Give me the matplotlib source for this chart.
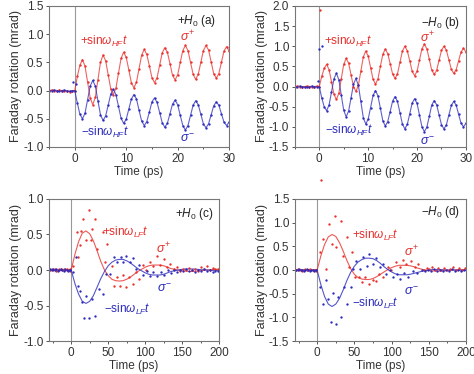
import numpy as np
import matplotlib
matplotlib.use("Agg")
import matplotlib.pyplot as plt
from matplotlib.ticker import MultipleLocator

plt.rcParams['font.family'] = ['Liberation Sans', 'DejaVu Sans']
plt.rcParams['mathtext.fontset'] = 'custom'
plt.rcParams['mathtext.rm'] = 'Liberation Sans'
plt.rcParams['mathtext.it'] = 'Liberation Sans:italic'
plt.rcParams['axes.unicode_minus'] = False

RED = '#e8302c'
BLUE = '#2b2bbd'

# ---- panels (a), (b): high-frequency precession, time in ps ----
t_hf = np.arange(-5, 30.01, 0.5)

red_a = [0.0, 0.01, 0.0, -0.01, 0.01, 0.0, -0.01, 0.0, -0.02, -0.01,
         0.0, 0.25, 0.45, 0.55, 0.43, 0.15, -0.13, -0.25, -0.12, 0.19,
         0.50, 0.63, 0.53, 0.28, 0.03, -0.07, 0.04, 0.31, 0.57, 0.68,
         0.59, 0.37, 0.14, 0.05, 0.15, 0.39, 0.63, 0.73, 0.64, 0.44,
         0.23, 0.14, 0.23, 0.45, 0.67, 0.76, 0.68, 0.48, 0.27, 0.19,
         0.28, 0.50, 0.71, 0.80, 0.71, 0.50, 0.29, 0.20, 0.29, 0.50,
         0.71, 0.80, 0.72, 0.51, 0.30, 0.22, 0.30, 0.50, 0.70, 0.78,
         0.70]
blue_a = [0.0, 0.0, 0.01, 0.0, -0.01, 0.0, 0.01, -0.01, -0.01, 0.0,
          0.0, -0.22, -0.42, -0.50, -0.40, -0.16, 0.08, 0.18, 0.08, -0.18,
          -0.43, -0.53, -0.45, -0.26, -0.06, 0.02, -0.07, -0.28, -0.49, -0.58,
          -0.51, -0.33, -0.15, -0.07, -0.15, -0.35, -0.54, -0.62, -0.55, -0.38,
          -0.20, -0.13, -0.21, -0.39, -0.57, -0.65, -0.58, -0.41, -0.24, -0.17,
          -0.25, -0.44, -0.62, -0.70, -0.62, -0.44, -0.26, -0.18, -0.25, -0.42,
          -0.59, -0.66, -0.59, -0.43, -0.27, -0.20, -0.26, -0.41, -0.56, -0.62,
          -0.56]
red_b = [0.0, 0.01, 0.0, -0.01, 0.0, 0.01, 0.0, -0.01, 0.0, 0.01,
         0.0, 0.25, 0.45, 0.55, 0.42, 0.12, -0.19, -0.32, -0.17, 0.19,
         0.55, 0.70, 0.58, 0.29, 0.0, -0.12, 0.03, 0.38, 0.73, 0.88,
         0.76, 0.47, 0.18, 0.06, 0.19, 0.50, 0.80, 0.93, 0.82, 0.57,
         0.31, 0.20, 0.32, 0.60, 0.88, 1.0, 0.89, 0.64, 0.38, 0.27,
         0.38, 0.66, 0.94, 1.05, 0.94, 0.68, 0.41, 0.30, 0.40, 0.65,
         0.90, 1.0, 0.90, 0.67, 0.43, 0.33, 0.42, 0.64, 0.86, 0.95,
         0.86]
blue_b = [0.0, 0.0, 0.01, 0.0, -0.01, 0.0, 0.0, 0.01, 0.0, 0.0,
          0.0, -0.28, -0.50, -0.60, -0.46, -0.14, 0.19, 0.33, 0.17, -0.21,
          -0.59, -0.75, -0.61, -0.28, 0.06, 0.20, 0.03, -0.37, -0.77, -0.93,
          -0.81, -0.52, -0.22, -0.10, -0.23, -0.54, -0.85, -0.98, -0.87, -0.62,
          -0.36, -0.25, -0.37, -0.65, -0.93, -1.05, -0.94, -0.68, -0.41, -0.30,
          -0.42, -0.71, -1.0, -1.12, -1.01, -0.74, -0.46, -0.35, -0.45, -0.70,
          -0.95, -1.05, -0.95, -0.71, -0.47, -0.37, -0.46, -0.69, -0.91, -1.0,
          -0.91]
# stray points right at zero delay
spike_a_t, spike_a_blue = [-0.3, 0.2], [0.15, 0.12]
spike_b_t_red, spike_b_red = [0.1, 0.3], [1.9, -2.33]
spike_b_t_blue, spike_b_blue = [0.0, 0.5, -0.2], [0.93, 1.0, 0.15]

# ---- panels (c), (d): low-frequency precession ----
t_fit = np.arange(-30, 200.1, 5)
fit_red_c = [0, 0, 0, 0, 0, 0,
             0.0, 0.22, 0.40, 0.52, 0.55, 0.51, 0.41, 0.27, 0.12, 0.0,
             -0.08, -0.13, -0.15, -0.155, -0.15, -0.13, -0.10, -0.06, -0.02, 0.01,
             0.04, 0.06, 0.07, 0.07, 0.07, 0.06, 0.04, 0.02, 0.01, 0.0,
             -0.01, -0.015, -0.02, -0.02, -0.015, -0.01, 0.0, 0.0, 0.005, 0.01,
             0.01]
fit_blue_c = [0, 0, 0, 0, 0, 0,
              0.0, -0.19, -0.34, -0.44, -0.47, -0.44, -0.36, -0.24, -0.12, -0.02,
              0.06, 0.11, 0.14, 0.15, 0.15, 0.13, 0.10, 0.06, 0.02, -0.01,
              -0.04, -0.06, -0.07, -0.07, -0.07, -0.06, -0.04, -0.02, -0.01, 0.0,
              0.01, 0.015, 0.015, 0.015, 0.01, 0.005, 0.0, 0.0, -0.005, -0.005,
              -0.01]
fit_red_d = [0, 0, 0, 0, 0, 0,
             0.0, 0.30, 0.54, 0.70, 0.75, 0.71, 0.58, 0.40, 0.20, 0.03,
             -0.09, -0.16, -0.19, -0.20, -0.20, -0.18, -0.14, -0.09, -0.04, 0.01,
             0.05, 0.08, 0.10, 0.10, 0.10, 0.09, 0.07, 0.04, 0.02, 0.0,
             -0.01, -0.02, -0.02, -0.02, -0.015, -0.01, 0.0, 0.0, 0.005, 0.01,
             0.01]
fit_blue_d = [0, 0, 0, 0, 0, 0,
              0.0, -0.31, -0.56, -0.72, -0.77, -0.72, -0.60, -0.42, -0.22, -0.05,
              0.08, 0.17, 0.22, 0.25, 0.25, 0.24, 0.20, 0.14, 0.07, 0.01,
              -0.04, -0.08, -0.10, -0.10, -0.10, -0.09, -0.07, -0.05, -0.03, -0.01,
              0.0, 0.01, 0.01, 0.01, 0.005, 0.0, 0.0, 0.0, -0.005, -0.005,
              -0.01]

t_pre = [-30, -28, -26, -24, -22, -20, -18, -16, -14, -12, -10, -8, -6, -4, -2, -1]
pre_red = [0.01, 0.0, 0.02, 0.0, 0.01, -0.01, 0.0, 0.02, 0.01, 0.0, 0.02, 0.0, 0.01, 0.0, -0.01, 0.01]
pre_blue = [0.0, 0.01, 0.0, 0.02, 0.0, 0.01, -0.01, 0.0, 0.02, 0.0, -0.01, 0.01, 0.0, -0.01, 0.0, 0.0]

dot_t_red_c = [2, 7.7, 8.7, 12, 13.6, 16, 20, 24.6, 26.4, 27.8, 32.8, 35.5, 42.8, 45.6, 48.7,
               54.7, 57.9, 62.4, 65.6, 70, 73.8, 78.4, 83, 87.5, 92, 96.6, 101, 106.6, 111,
               115.7, 120, 124.8, 129.4, 134, 138.5, 143, 147, 151, 155, 159, 163, 167, 171,
               175, 179, 183, 187, 191, 195, 199]
dot_red_c = [0.05, 0.54, 0.18, 0.35, 0.55, 0.72, 0.42, 0.84, 0.42, 0.58, 0.72, 0.30, 0.53, 0.12, 0.37,
             0.05, -0.23, -0.10, -0.23, -0.07, -0.24, -0.10, -0.20, -0.03, -0.13, 0.07, 0.0, 0.12, 0.06,
             0.20, 0.07, 0.15, 0.04, 0.09, 0.01, 0.04, -0.01, 0.02, 0.0, 0.03, 0.0, 0.02, -0.01,
             0.04, 0.01, 0.05, 0.0, 0.03, 0.01, 0.02]
dot_t_blue_c = [2, 6.4, 9.1, 12, 14.6, 17, 20, 24.6, 28, 32.8, 37.4, 42.8, 47.4, 53, 58, 62, 67,
                70, 74.7, 79, 83, 87.5, 92, 96.6, 102, 106.6, 111, 115.7, 121.6, 126, 130.7,
                135, 139, 143, 147, 151, 155, 159, 163, 167, 171, 175, 179, 183, 187, 191, 195, 199]
dot_blue_c = [-0.03, 0.19, -0.23, -0.30, -0.45, -0.67, -0.36, -0.67, -0.41, -0.64, -0.27, -0.34, -0.06,
              -0.06, 0.18, 0.11, 0.19, 0.11, 0.20, 0.12, 0.17, 0.01, 0.07, -0.07, -0.01, -0.09, -0.03,
              -0.09, -0.03, -0.07, 0.0, -0.04, 0.0, -0.03, 0.0, -0.02, 0.01, -0.02, 0.0, -0.03, 0.0,
              -0.02, 0.01, -0.02, 0.0, -0.03, -0.01, -0.02]

dot_t_red_d = [4.5, 7.7, 11.3, 15.9, 19.5, 24, 25, 31.7, 35, 39.5, 43, 46.7, 51, 55.8, 60.3, 64.9,
               69.4, 74.8, 78.5, 83, 88.4, 95, 99.8, 105.7, 111, 115.6, 120, 125.6, 131.5, 136,
               143, 147, 151, 155, 159, 163, 167, 171, 175, 179, 183, 187, 191, 195, 199]
dot_red_d = [0.38, 0.66, 0.02, 0.97, 0.54, 1.13, 0.48, 1.03, 0.30, 0.69, 0.06, 0.38, -0.14, -0.15,
             -0.26, -0.14, -0.29, -0.22, -0.24, -0.08, -0.14, 0.07, 0.0, 0.17, 0.06, 0.22, 0.12, 0.20,
             0.07, 0.13, 0.0, 0.05, 0.02, 0.06, 0.0, 0.04, 0.01, 0.05, 0.0, 0.03, 0.06, 0.01, 0.04,
             0.0, 0.05]
dot_t_blue_d = [4.5, 7.7, 11.3, 15, 18, 21, 25, 28.6, 31.7, 36, 39.5, 45, 48.5, 52, 57.6, 61.2, 66.7,
                70.3, 74.8, 79.4, 84, 88.4, 93, 97.5, 102, 107.5, 112, 116.6, 122.4, 128.3, 133.8,
                140.6, 145, 149, 153, 157, 161, 165, 169, 173, 177, 181, 185, 189, 193, 197]
dot_blue_d = [-0.36, -0.71, -0.22, -0.61, -1.10, -0.49, -1.13, -0.57, -1.0, -0.36, -0.71, -0.35, 0.02,
              0.20, 0.02, 0.27, 0.09, 0.34, 0.13, 0.26, 0.07, 0.13, -0.09, 0.0, -0.15, -0.08, -0.19,
              -0.07, -0.14, -0.01, -0.07, 0.0, -0.03, 0.01, -0.02, 0.02, -0.01, 0.01, -0.02, 0.0,
              -0.01, 0.02, -0.02, 0.0, -0.01, 0.01]

fig = plt.figure(figsize=(4.74, 3.74), dpi=100)
ax_a = fig.add_axes([0.1034, 0.607, 0.380, 0.377])
ax_b = fig.add_axes([0.622, 0.607, 0.361, 0.377])
ax_c = fig.add_axes([0.1034, 0.088, 0.359, 0.380])
ax_d = fig.add_axes([0.622, 0.088, 0.361, 0.380])

ms = 1.7
LBL = 8.5


def style(ax, xlim, ylim, xmaj, xmin_, ystep):
    ax.set_xlim(*xlim)
    ax.set_ylim(*ylim)
    ax.xaxis.set_major_locator(MultipleLocator(xmaj))
    ax.xaxis.set_minor_locator(MultipleLocator(xmin_))
    ax.yaxis.set_major_locator(MultipleLocator(ystep))
    ax.yaxis.set_major_formatter(plt.FormatStrFormatter('%.1f'))
    ax.tick_params(which='both', direction='out', labelsize=8.5, colors='#555555',
                   labelcolor='#333333', width=0.7, top=False, right=False, pad=1.5)
    ax.tick_params(which='major', length=2.5)
    ax.tick_params(which='minor', length=1.5)
    for s in ax.spines.values():
        s.set_color('#777777')
        s.set_linewidth(0.8)
    ax.axvline(0, color='#999999', lw=0.8, zorder=0)
    ax.set_xlabel('Time (ps)', fontsize=8.5, color='#333333', labelpad=1)
    ax.set_ylabel('Faraday rotation (mrad)', fontsize=9, color='#333333', labelpad=1)


# (a)
ax_a.plot(t_hf, red_a, color=RED, lw=0.8, alpha=0.75)
ax_a.plot(t_hf, blue_a, color=BLUE, lw=0.8, alpha=0.75)
ax_a.plot(t_hf, red_a, 'o', color=RED, ms=ms, mew=0)
ax_a.plot(t_hf, blue_a, 'o', color=BLUE, ms=ms, mew=0)
ax_a.plot(spike_a_t, spike_a_blue, 'o', color=BLUE, ms=ms, mew=0)
style(ax_a, (-5, 30), (-1.0, 1.5), 10, 5, 0.5)
ax_a.text(1.0, 0.87, r'+sin$\omega_{HF}t$', color=RED, fontsize=LBL, va='center')
ax_a.text(1.2, -0.75, r'−sin$\omega_{HF}t$', color=BLUE, fontsize=LBL, va='center')
ax_a.text(20.5, 0.96, r'$\sigma^{+}$', color=RED, fontsize=9, va='center')
ax_a.text(20.5, -0.86, r'$\sigma^{-}$', color=BLUE, fontsize=9, va='center')
ax_a.text(19.8, 1.23, r'+$H_0$ (a)', color='#222222', fontsize=LBL, va='center')

# (b)
ax_b.plot(t_hf, red_b, color=RED, lw=0.8, alpha=0.75)
ax_b.plot(t_hf, blue_b, color=BLUE, lw=0.8, alpha=0.75)
ax_b.plot(t_hf, red_b, 'o', color=RED, ms=ms, mew=0)
ax_b.plot(t_hf, blue_b, 'o', color=BLUE, ms=ms, mew=0)
ax_b.plot(spike_b_t_red, spike_b_red, 'o', color=RED, ms=ms, mew=0, clip_on=False)
ax_b.plot(spike_b_t_blue, spike_b_blue, 'o', color=BLUE, ms=ms, mew=0)
style(ax_b, (-5, 30), (-1.5, 2.0), 10, 5, 0.5)
ax_b.text(0.9, 1.11, r'+sin$\omega_{HF}t$', color=RED, fontsize=LBL, va='center')
ax_b.text(1.2, -1.10, r'−sin$\omega_{HF}t$', color=BLUE, fontsize=LBL, va='center')
ax_b.text(20.6, 1.2, r'$\sigma^{+}$', color=RED, fontsize=9, va='center')
ax_b.text(20.6, -1.37, r'$\sigma^{-}$', color=BLUE, fontsize=9, va='center')
ax_b.text(20.8, 1.58, r'−$H_0$ (b)', color='#222222', fontsize=LBL, va='center')

# (c)
ax_c.plot(t_fit, fit_red_c, color=RED, lw=0.8, alpha=0.8)
ax_c.plot(t_fit, fit_blue_c, color=BLUE, lw=0.8, alpha=0.8)
ax_c.plot(t_pre, pre_red, 'o', color=RED, ms=ms, mew=0)
ax_c.plot(t_pre, pre_blue, 'o', color=BLUE, ms=ms, mew=0)
ax_c.plot(dot_t_red_c, dot_red_c, 'o', color=RED, ms=ms, mew=0)
ax_c.plot(dot_t_blue_c, dot_blue_c, 'o', color=BLUE, ms=ms, mew=0)
style(ax_c, (-30, 200), (-1.0, 1.0), 50, 25, 0.5)
ax_c.text(42, 0.53, r'+sin$\omega_{LF}t$', color=RED, fontsize=LBL, va='center')
ax_c.text(44, -0.55, r'−sin$\omega_{LF}t$', color=BLUE, fontsize=LBL, va='center')
ax_c.text(114, 0.30, r'$\sigma^{+}$', color=RED, fontsize=9, va='center')
ax_c.text(116, -0.27, r'$\sigma^{-}$', color=BLUE, fontsize=9, va='center')
ax_c.text(140, 0.79, r'+$H_0$ (c)', color='#222222', fontsize=LBL, va='center')

# (d)
ax_d.plot(t_fit, fit_red_d, color=RED, lw=0.8, alpha=0.8)
ax_d.plot(t_fit, fit_blue_d, color=BLUE, lw=0.8, alpha=0.8)
ax_d.plot(t_pre, pre_red, 'o', color=RED, ms=ms, mew=0)
ax_d.plot(t_pre, pre_blue, 'o', color=BLUE, ms=ms, mew=0)
ax_d.plot(dot_t_red_d, dot_red_d, 'o', color=RED, ms=ms, mew=0)
ax_d.plot(dot_t_blue_d, dot_blue_d, 'o', color=BLUE, ms=ms, mew=0)
style(ax_d, (-30, 200), (-1.5, 1.5), 50, 25, 0.5)
ax_d.text(47, 0.73, r'+sin$\omega_{LF}t$', color=RED, fontsize=LBL, va='center')
ax_d.text(47, -0.71, r'−sin$\omega_{LF}t$', color=BLUE, fontsize=LBL, va='center')
ax_d.text(117, 0.38, r'$\sigma^{+}$', color=RED, fontsize=9, va='center')
ax_d.text(117, -0.47, r'$\sigma^{-}$', color=BLUE, fontsize=9, va='center')
ax_d.text(140, 1.22, r'−$H_0$ (d)', color='#222222', fontsize=LBL, va='center')

fig.savefig('out.png', dpi=100)
